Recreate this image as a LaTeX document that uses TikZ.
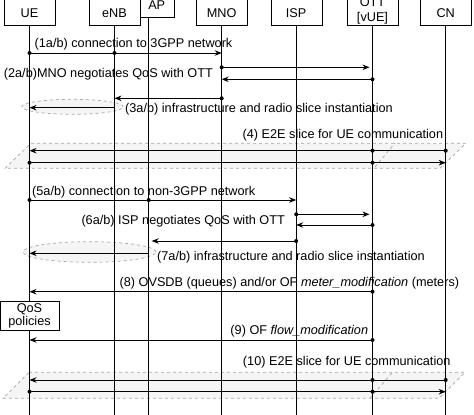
\documentclass[tikz,border=0pt]{standalone}
\usepackage{fontspec}
\setmainfont{Liberation Sans}
\usetikzlibrary{arrows.meta, positioning}

\begin{document}
\begin{tikzpicture}[x=1pt, y=-1pt,
    headbox/.style={draw, fill=white, minimum width=51pt, anchor=south, font=\fontsize{12.7}{15}\selectfont},
    onerow/.style={text height=19.5pt, text depth=4.5pt, inner ysep=3pt},
    life/.style={line width=0.8pt},
    msg/.style={line width=0.9pt, -{Stealth[length=7pt, width=5.5pt]}},
    lbl/.style={font=\fontsize{12.7}{15}\selectfont, inner sep=0pt},
    slice/.style={draw=gray!70, dashed, fill=gray!8, line width=0.7pt},
    brk/.style={draw=gray!70, dashed, line width=0.7pt}
]
\clip (0,0) rectangle (474,415);

% Slices
\path[slice] (31,143.3) -- (466,143.3) -- (440,168.3) -- (5,168.3) -- cycle;
\path[brk] (375,167) -- (395,143);
\path[slice] (29,372.3) -- (465,372.3) -- (439,398.3) -- (3,398.3) -- cycle;
\path[brk] (370,398) -- (392,373);
\path[slice] (72.5,106.8) ellipse [x radius=50.8pt, y radius=7.5pt];
\path[slice] (89.5,252) ellipse [x radius=66.5pt, y radius=10.3pt];

% Heads
\node[headbox, onerow, text width=33pt, align=right] (ap) at (148.7,17) {AP};
\node[headbox, onerow] (ue) at (29.5,25) {UE};
\node[headbox, onerow] (enb) at (114.5,25) {eNB};
\node[headbox, onerow] (mno) at (221.7,25) {MNO};
\node[headbox, onerow] (isp) at (296.2,25) {ISP};
\node[headbox, align=center, inner ysep=1pt] (ott) at (372.5,25) {OTT\\{[vUE]}};
\node[headbox, onerow] (cn) at (445.7,25) {CN};

% Lifelines
\foreach \n in {ue,enb,ap,mno,isp,ott,cn}
    \draw[life] (\n.south) -- (\n.south |- 0,415);

% (1)
\draw[msg] (ue |- 0,53) -- (mno |- 0,53);
\fill (ue |- 0,53) circle (2pt) (enb |- 0,53) circle (2pt);
\node[lbl, anchor=base west] (t1) at (34.5,47.5) {(1a/b) connection to 3GPP network};

% (2)
\draw[msg, shorten >=3pt] (mno |- 0,67.3) -- (ott |- 0,67.3);
\draw[msg] (ott |- 0,79.3) -- (mno |- 0,79.3);
\fill (mno |- 0,67.3) circle (2pt) (ott |- 0,79.3) circle (2pt);
\node[lbl, anchor=base east] (t2) at (213,77) {(2a/b)MNO negotiates QoS with OTT};

% (3)
\draw[msg] (mno |- 0,98.3) -- (enb |- 0,98.3);
\draw[msg] (enb |- 0,107.7) -- (ue |- 0,107.7);
\fill (mno |- 0,98.3) circle (2pt);
\node[lbl, anchor=base west] (t3) at (125,112.5) {(3a/b) infrastructure and radio slice instantiation};

% (4)
\draw[msg] (cn |- 0,150.7) -- (ue |- 0,150.7);
\draw[msg] (ue |- 0,162.7) -- (cn |- 0,162.7);
\fill (cn |- 0,150.7) circle (2pt) (ott |- 0,150.7) circle (2pt)
      (ue |- 0,162.7) circle (2pt) (ott |- 0,162.7) circle (2pt);
\node[lbl, anchor=base east] (t4) at (443.3,138.3) {(4) E2E slice for UE communication};

% (5)
\draw[msg] (ue |- 0,200) -- (isp |- 0,200);
\fill (ue |- 0,200) circle (2pt) (ap |- 0,200) circle (2pt);
\node[lbl, anchor=base west] (t5) at (32,195) {(5a/b) connection to non-3GPP network};

% (6)
\draw[msg, shorten >=3pt] (isp |- 0,214.3) -- (ott |- 0,214.3);
\draw[msg] (ott |- 0,225) -- (isp |- 0,225);
\fill (isp |- 0,214.3) circle (2pt) (ott |- 0,225) circle (2pt);
\node[lbl, anchor=base east] (t6) at (285,224.3) {(6a/b) ISP negotiates QoS with OTT};

% (7)
\draw[msg, shorten >=3pt] (isp |- 0,241) -- (ap |- 0,241);
\draw[msg] (ap |- 0,253.3) -- (ue |- 0,253.3);
\fill (isp |- 0,241) circle (2pt);
\node[lbl, anchor=base west] (t7) at (157,260) {(7a/b) infrastructure and radio slice instantiation};

% (8)
\draw[msg] (ott |- 0,291.7) -- (ue |- 0,291.7);
\fill (ott |- 0,291.7) circle (2pt);
\node[lbl, anchor=base east] (t8) at (459.3,286.7) {(8) OVSDB (queues) and/or OF \textit{meter\_modification} (meters)};

\node[draw, fill=white, minimum width=59pt, minimum height=29pt, align=center, inner sep=1pt,
      font=\fontsize{12.7}{13}\selectfont] (qos) at (29.5,315.5) {QoS\\policies};

% (9)
\draw[msg] (ott |- 0,340) -- (ue |- 0,340);
\fill (ott |- 0,340) circle (2pt);
\node[lbl, anchor=base east] (t9) at (368.3,334.3) {(9) OF \textit{flow\_modification}};

% (10)
\draw[msg] (cn |- 0,380) -- (ue |- 0,380);
\draw[msg] (ue |- 0,391.7) -- (cn |- 0,391.7);
\fill (cn |- 0,380) circle (2pt) (ott |- 0,380) circle (2pt)
      (ue |- 0,391.7) circle (2pt) (ott |- 0,391.7) circle (2pt);
\node[lbl, anchor=base east] (t10) at (450.7,365) {(10) E2E slice for UE communication};

\end{tikzpicture}
\end{document}
